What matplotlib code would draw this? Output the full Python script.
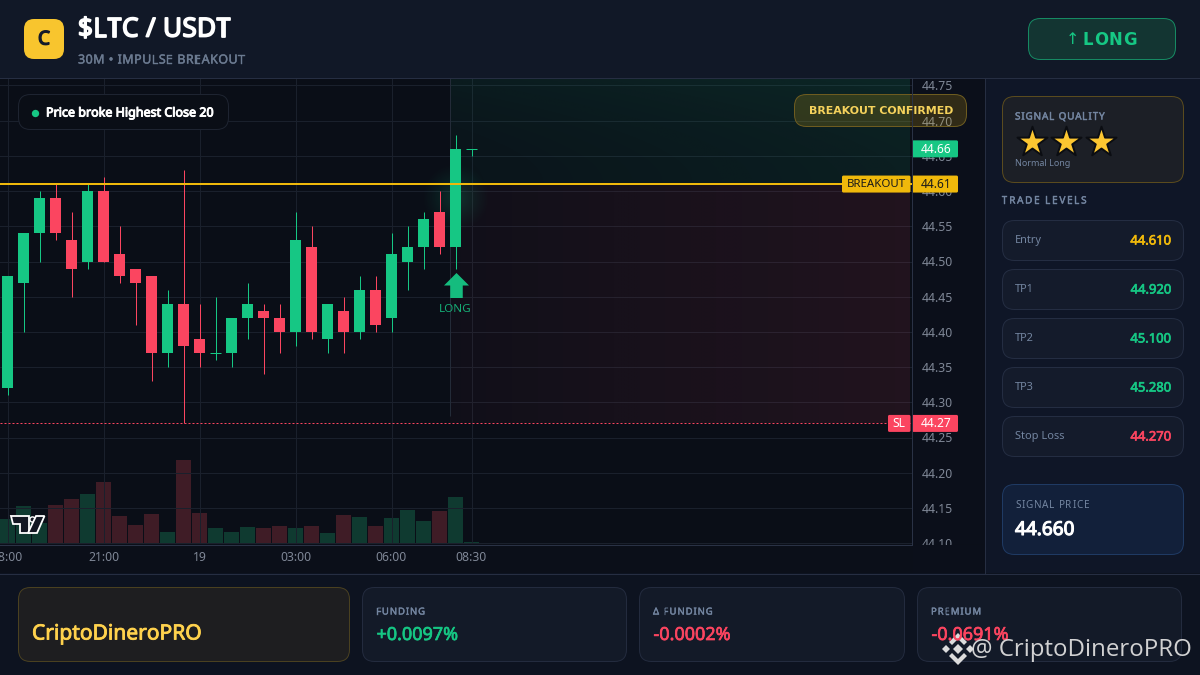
# litecoin breakout signal card, candles + volume + side panels

import numpy as np
import matplotlib
matplotlib.use('Agg')
import matplotlib.pyplot as plt
import matplotlib.patheffects as pe
from matplotlib.patches import FancyBboxPatch, Rectangle, Polygon
from matplotlib.path import Path

plt.rcParams['font.family'] = ['Noto Sans', 'DejaVu Sans']

############## chart data ##########################
opens = [44.32, 44.47, 44.54, 44.59, 44.53, 44.50, 44.60, 44.51, 44.49, 44.48,
         44.37, 44.44, 44.39, 44.37, 44.37, 44.42, 44.43, 44.42, 44.40, 44.52,
         44.39, 44.43, 44.40, 44.46, 44.42, 44.50, 44.52, 44.57, 44.52, 44.66]
closes = [44.48, 44.54, 44.59, 44.54, 44.49, 44.60, 44.50, 44.48, 44.47, 44.37,
          44.44, 44.38, 44.37, 44.37, 44.42, 44.44, 44.42, 44.40, 44.53, 44.40,
          44.44, 44.40, 44.46, 44.41, 44.51, 44.52, 44.56, 44.52, 44.66, 44.66]
highs = [44.48, 44.54, 44.60, 44.61, 44.57, 44.61, 44.62, 44.55, 44.49, 44.48,
         44.46, 44.63, 44.44, 44.45, 44.42, 44.47, 44.44, 44.44, 44.57, 44.55,
         44.44, 44.45, 44.48, 44.48, 44.54, 44.55, 44.57, 44.60, 44.68, 44.66]
lows = [44.31, 44.40, 44.50, 44.53, 44.45, 44.49, 44.50, 44.47, 44.41, 44.33,
        44.35, 44.27, 44.35, 44.36, 44.35, 44.39, 44.34, 44.37, 44.38, 44.39,
        44.37, 44.37, 44.39, 44.40, 44.40, 44.46, 44.49, 44.51, 44.49, 44.65]
volumes = [25, 38, 21, 39, 45, 50, 62, 28, 19, 30, 12, 84, 31, 16, 12,
           17, 16, 18, 16, 18, 11, 29, 27, 18, 26, 34, 23, 33, 47, 2]

price_ticks = [44.75, 44.70, 44.65, 44.60, 44.55, 44.50, 44.45, 44.40, 44.35,
               44.30, 44.25, 44.20, 44.15, 44.10]
time_ticks = [0, 6, 12, 18, 24, 29]
time_labels = ['18:00', '21:00', '19', '03:00', '06:00', '08:30']

signal_idx = 28
box_start = 27.65
breakout_price = 44.61
stop_price = 44.27
last_price = 44.66
arrow_price = 44.466

level_names = ['Entry', 'TP1', 'TP2', 'TP3', 'Stop Loss']
level_values = ['44.610', '44.920', '45.100', '45.280', '44.270']

footer_names = ['FUNDING', 'Δ FUNDING', 'PREMIUM']
footer_values = ['+0.0097%', '-0.0002%', '-0.0691%']

star_count = 3

################## colours #########################
GREEN = '#16c784'
RED = '#fb4560'
YELLOW = '#f0b90b'
GRID = '#1a202c'
LINE = '#262e42'
TICK = '#7f8796'
MUTED = '#7385a0'
PX = 0.72  # one pixel as a line width

W, H = 1200, 675
fig = plt.figure(figsize=(W / 100, H / 100), dpi=100, facecolor='#0d1320')


def px_axes(zorder):
    # full figure axes in screen pixels, y pointing down
    a = fig.add_axes([0, 0, 1, 1], zorder=zorder)
    a.set_xlim(0, W)
    a.set_ylim(H, 0)
    a.axis('off')
    a.patch.set_alpha(0)
    return a


def card(a, x0, y0, x1, y1, r, fc, ec, lw=PX, alpha=None):
    p = FancyBboxPatch((x0 + r, y0 + r), x1 - x0 - 2 * r, y1 - y0 - 2 * r,
                       boxstyle='round,pad=%f,rounding_size=%f' % (r, r),
                       fc=fc, ec=ec, lw=lw, alpha=alpha)
    a.add_patch(p)
    return p


def txt(a, x, y, s, size_px, color, bold=0, ha='left', **kw):
    # the sans families have no heavy cut here, so bold is a thin stroke of the same colour
    t = a.text(x, y, s, fontsize=size_px * 0.72, color=color, ha=ha, va='center', **kw)
    if bold:
        t.set_path_effects([pe.withStroke(linewidth=bold, foreground=color)])
    return t


def text_w(a, s, size_px, **kw):
    t = a.text(0, 0, s, fontsize=size_px * 0.72, **kw)
    w = t.get_window_extent(fig.canvas.get_renderer()).width
    t.remove()
    return w


def spaced(a, x, y, s, size_px, color, gap, bold=0, **kw):
    # css letter-spacing: place the characters one by one
    for i, ch in enumerate(s):
        if ch == ' ':
            continue
        off = text_w(a, s[:i] + ch, size_px, **kw) - text_w(a, ch, size_px, **kw)
        txt(a, x + off + gap * i, y, ch, size_px, color, bold, **kw)


################## background panels ###############
bg = px_axes(0)
bg.add_patch(Rectangle((0, 0), W, 78, fc='#111827', ec='none'))
bg.add_patch(Rectangle((0, 78), 985, 495, fc='#0a0e17', ec='none'))
bg.add_patch(Rectangle((912, 78), 73, 495, fc='#0b0f1a', ec='none'))
bg.add_patch(Rectangle((0, 544), 985, 29, fc='#0b0f19', ec='none'))
bg.add_patch(Rectangle((985, 78), 215, 495, fc='#0f1627', ec='none'))

################## candles + volume ################
ax_pos = [0, (H - 544) / H, 912 / W, (544 - 78) / H]
xlim = (-7.5 / 16, (912 - 7.5) / 16)

vax = fig.add_axes(ax_pos, zorder=1)
vax.patch.set_alpha(0)
vax.axis('off')
vax.set_xlim(*xlim)
vax.set_ylim(0, 466)

ax = fig.add_axes(ax_pos, zorder=2)
ax.patch.set_alpha(0)
ax.set_xlim(*xlim)
ax.set_ylim(44.75 - 458.5 / 704, 44.75 + 7.5 / 704)
for s in ax.spines.values():
    s.set_visible(False)

x = np.arange(len(opens))
opens = np.asarray(opens)
closes = np.asarray(closes)
highs = np.asarray(highs)
lows = np.asarray(lows)
up = closes >= opens
cols = np.where(up, GREEN, RED)
vcols = np.where(up, '#0f3a30', '#3f1c26')

vax.bar(x, volumes, width=15 / 16, color=vcols)

ax.set_yticks(price_ticks)
ax.set_yticklabels(['%.2f' % p for p in price_ticks], fontsize=8.8, color=TICK)
ax.yaxis.tick_right()
ax.set_xticks(time_ticks)
ax.set_xticklabels(time_labels, fontsize=8.8, color=TICK)
ax.tick_params(axis='x', length=0, pad=5)
ax.tick_params(axis='y', length=0, pad=7)
ax.grid(True, color=GRID, lw=PX)
ax.set_axisbelow(True)

# position box, green above the breakout and red down to the stop
xs = np.linspace(0, 1, 120)
ys = np.linspace(0, 1, 60)
gx, gy = np.meshgrid(xs, ys)
green_img = np.zeros((60, 120, 4))
green_img[..., :3] = matplotlib.colors.to_rgb(GREEN)
green_img[..., 3] = 0.035 + 0.06 * gx + 0.04 * (1 - gy) ** 2
red_img = np.zeros((60, 120, 4))
red_img[..., :3] = matplotlib.colors.to_rgb(RED)
red_img[..., 3] = 0.03 + 0.07 * gx
box_end = (909 - 7.5) / 16
top_price = ax.get_ylim()[1]
ax.imshow(green_img, extent=(box_start, box_end, breakout_price, top_price),
          origin='upper', aspect='auto', zorder=1, interpolation='bilinear')
ax.imshow(red_img, extent=(box_start, box_end, stop_price, breakout_price),
          origin='upper', aspect='auto', zorder=1, interpolation='bilinear')
ax.vlines(box_start, stop_price + 0.01, top_price, color='#232b38', lw=PX, zorder=1.1)

# glow behind the signal candle
rx, ry = np.meshgrid(np.linspace(-1, 1, 90), np.linspace(-1, 1, 90))
glow = np.zeros((90, 90, 4))
glow[..., :3] = matplotlib.colors.to_rgb(GREEN)
glow[..., 3] = 0.2 * np.clip(1 - np.hypot(rx, ry), 0, 1) ** 1.2
ax.imshow(glow, extent=(signal_idx - 35 / 16, signal_idx + 35 / 16, 44.54, 44.64),
          origin='upper', aspect='auto', zorder=1.2)

ax.set_xlim(*xlim)
ax.set_ylim(44.75 - 458.5 / 704, 44.75 + 7.5 / 704)

ax.vlines(x, lows, highs, color=cols, lw=PX, zorder=3)
ax.bar(x, np.abs(closes - opens), bottom=np.minimum(opens, closes), width=11 / 16,
       color=cols, zorder=3.1)
flat = opens == closes
ax.hlines(opens[flat], x[flat] - 5.5 / 16, x[flat] + 5.5 / 16,
          color=cols[flat], lw=PX, zorder=3.1)

ax.axhline(breakout_price, color=YELLOW, lw=1.45, zorder=4)
ax.axhline(stop_price, color=RED, lw=PX, ls=(0, (2, 2)), zorder=4)

# signal arrow under the candle
arrow = Path([(0, 1), (1, 0), (0.5, 0), (0.5, -1), (-0.5, -1), (-0.5, 0), (-1, 0), (0, 1)], closed=True)
ax.scatter([signal_idx], [arrow_price], marker=arrow, s=324, color=GREEN, lw=0, alpha=0.95, zorder=5)
ax.annotate('LONG', (signal_idx, arrow_price), xytext=(0, -17), textcoords='offset points',
            ha='center', va='center', fontsize=8.4, color=GREEN, alpha=0.85)


def price_y(p):
    return H - ax.transData.transform((0, p))[1]


################## overlay ui ######################
ui = px_axes(5)

# clip strip below the price axis and panel borders
ui.add_patch(Rectangle((912.5, 544.5), 72, 28, fc='#0b0f1a', ec='none'))
ui.plot([0, W], [77.5, 77.5], color=LINE, lw=PX)
ui.plot([0, W], [573.5, 573.5], color=LINE, lw=PX)
ui.plot([0, 912], [544.5, 544.5], color='#2a3245', lw=PX)
ui.plot([912, 912], [78, 544.5], color='#2a3245', lw=PX)
ui.plot([985, 985], [78, 573], color=LINE, lw=PX)

# header
card(ui, 24, 19, 64, 59, 10, '#f8c52e', 'none')
txt(ui, 44, 39.5, 'C', 19, '#141a2a', bold=1.0, ha='center')
spaced(ui, 78, 30, '$LTC / USDT', 26, 'white', 0.4, bold=1.3, family='Open Sans')
spaced(ui, 78, 60, '30M • IMPULSE BREAKOUT', 12.5, '#6b7a90', 0.45, bold=0.3)
card(ui, 1028.5, 18.5, 1175.5, 59.5, 12, '#133532', '#168a63')
txt(ui, 1072, 39.5, '↑', 16, GREEN, ha='center', family=['DejaVu Sans'])
spaced(ui, 1083, 40, 'LONG', 16.5, GREEN, 0.8, family='DejaVu Sans', weight='bold')

# pills on the chart
card(ui, 18.5, 94.5, 228.5, 129.5, 12, '#0a0e16', '#1e2431')
ui.scatter([35], [113], s=28, color=GREEN, lw=0)
txt(ui, 46, 113, 'Price broke Highest Close 20', 12.5, 'white', bold=0.7)
card(ui, 794.5, 94.5, 966.5, 126.5, 12, '#f0b90b', 'none', alpha=0.17)
card(ui, 794.5, 94.5, 966.5, 126.5, 12, 'none', '#6e5c20')
txt(ui, 881, 111.5, 'BREAKOUT CONFIRMED', 11, '#f5d25c', ha='center', family=['DejaVu Sans'], weight='bold')

# price tags, placed from the axis scale
yb = price_y(breakout_price)
ys_ = price_y(stop_price)
yl = price_y(last_price)
card(ui, 842, yb - 8.5, 910.5, yb + 8.5, 1.5, YELLOW, 'none')
card(ui, 912, yb - 8.5, 958, yb + 8.5, 1.5, YELLOW, 'none')
txt(ui, 876, yb + 0.5, 'BREAKOUT', 11.5, '#1a1a1a', ha='center')
txt(ui, 936, yb + 0.5, '%.2f' % breakout_price, 12, '#1a1a1a', ha='center')
card(ui, 912, yl - 8.5, 958, yl + 8.5, 1.5, GREEN, 'none')
txt(ui, 936, yl + 0.5, '%.2f' % last_price, 12, 'white', ha='center')
card(ui, 888, ys_ - 8.5, 910.5, ys_ + 8.5, 1.5, RED, 'none')
card(ui, 912, ys_ - 8.5, 958, ys_ + 8.5, 1.5, RED, 'none')
txt(ui, 899, ys_ + 0.5, 'SL', 12, 'white', ha='center')
txt(ui, 936, ys_ + 0.5, '%.2f' % stop_price, 12, 'white', ha='center')

# tradingview mark
ui.add_patch(Polygon([(10.5, 516), (28.5, 516), (28.5, 533), (19.5, 533), (19.5, 524), (13, 524)],
                     closed=True, fc='#131722', ec='white', lw=1.3))
ui.scatter([31.5], [518.5], s=14, color='#131722', edgecolor='white', lw=1)
ui.add_patch(Polygon([(36, 516), (44.5, 516), (37, 533), (28, 533)],
                     closed=True, fc='#131722', ec='white', lw=1.3))

# signal quality
card(ui, 1002.5, 96.5, 1183.5, 182.5, 12, '#1c1f26', '#5a4b1e')
spaced(ui, 1015, 117, 'SIGNAL QUALITY', 10, MUTED, 0.8, bold=0.3)
ui.scatter(1032 + 34.3 * np.arange(star_count), [141.5] * star_count, marker='*', s=520,
           color='#fcc631', edgecolor='#0b0d12', lw=1.4)
txt(ui, 1015, 164, 'Normal Long', 9, MUTED)

# trade levels
spaced(ui, 1002, 201, 'TRADE LEVELS', 10, MUTED, 1.6, bold=0.3)
level_colors = [YELLOW, GREEN, GREEN, GREEN, RED]
for i, (name, val) in enumerate(zip(level_names, level_values)):
    y0 = 220.5 + 49 * i
    card(ui, 1002.5, y0, 1183.5, y0 + 40, 12, '#141b2b', '#242d42')
    txt(ui, 1015, y0 + 20, name, 11, MUTED)
    txt(ui, 1171, y0 + 20.5, val, 13, level_colors[i], bold=0.5, ha='right')

# signal price
card(ui, 1002.5, 484.5, 1183.5, 554.5, 12, '#12203a', '#1f3a63')
spaced(ui, 1015, 506, 'SIGNAL PRICE', 10, MUTED, 0.8)
txt(ui, 1015, 530, '%.3f' % last_price, 19, 'white', bold=0.8)

# footer
card(ui, 18.5, 587.5, 349.5, 661.5, 12, '#1e1e20', '#4a4120')
txt(ui, 32, 634, 'CriptoDineroPRO', 21, '#ffd24d', bold=0.6)
footer_x = [(362.5, 626.5), (639.5, 904.5), (917.5, 1181.5)]
footer_colors = [GREEN, RED, RED]
for (x0, x1), name, val, col in zip(footer_x, footer_names, footer_values, footer_colors):
    card(ui, x0, 587.5, x1, 661.5, 12, '#131a28', '#232b3e')
    spaced(ui, x0 + 13.5, 612, name, 9.5, MUTED, 1.0, bold=0.3)
    txt(ui, x0 + 14, 635, val, 18, col, bold=0.5)

# watermark
wm = '#dcdcdc'
cx, cy = 958, 649
ui.add_patch(Polygon([(cx, cy - 5), (cx + 5, cy), (cx, cy + 5), (cx - 5, cy)], closed=True, fc=wm, ec='none'))
ui.add_patch(Polygon([(cx - 16, cy), (cx - 12, cy - 4), (cx - 8, cy), (cx - 12, cy + 4)], closed=True, fc=wm, ec='none'))
ui.add_patch(Polygon([(cx + 16, cy), (cx + 12, cy - 4), (cx + 8, cy), (cx + 12, cy + 4)], closed=True, fc=wm, ec='none'))
ui.add_patch(Polygon([(cx, cy - 16), (cx + 9, cy - 7), (cx + 6, cy - 4), (cx, cy - 10), (cx - 6, cy - 4), (cx - 9, cy - 7)],
                     closed=True, fc=wm, ec='none'))
ui.add_patch(Polygon([(cx, cy + 16), (cx + 9, cy + 7), (cx + 6, cy + 4), (cx, cy + 10), (cx - 6, cy + 4), (cx - 9, cy + 7)],
                     closed=True, fc=wm, ec='none'))
txt(ui, 971, 650.5, '@ CriptoDineroPRO', 24, wm, family='Open Sans', alpha=0.95)

fig.savefig('out.png', dpi=100, facecolor=fig.get_facecolor())
